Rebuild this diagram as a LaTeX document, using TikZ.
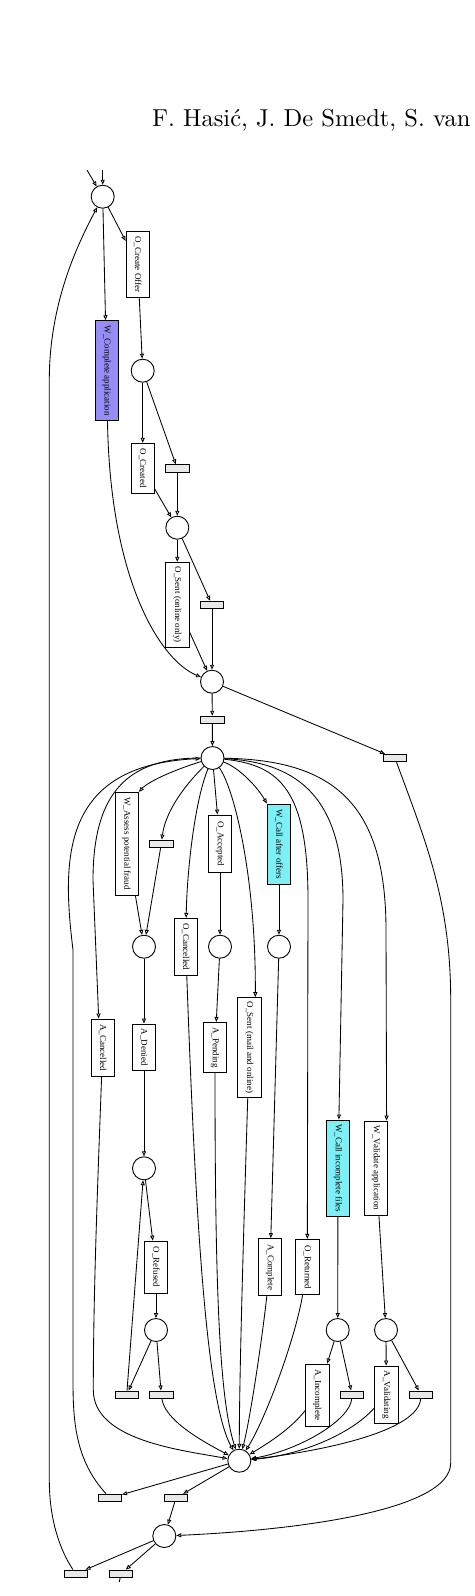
\documentclass[tikz,border=0pt]{standalone}
\usepackage{graphicx}
\usepackage{fontspec}
\newfontfamily\lblfont{Liberation Serif}
\newfontfamily\headfont{lmroman10-regular.otf}
\usetikzlibrary{arrows.meta}
\definecolor{wblue}{RGB}{150,140,245}
\definecolor{wcyan}{RGB}{125,240,245}
\definecolor{tgray}{RGB}{232,232,232}

\begin{document}
\begin{tikzpicture}[x=1pt, y=-1pt,
  pl/.style={draw, circle, minimum size=23pt, inner sep=0pt, line width=0.9pt},
  act/.style={draw, minimum width=23.3pt, minimum height=#1, inner sep=0pt, line width=0.9pt, font=\lblfont\fontsize{9}{10}\selectfont},
  tau/.style={draw, fill=tgray, minimum width=23.3pt, minimum height=7.6pt, inner sep=0pt, line width=0.8pt},
  flow/.style={-{Triangle[open, length=5pt, width=4pt]}, line width=0.85pt}
]
  \useasboundingbox (0,0) rectangle (474,1596);

  % running head
  \node[anchor=base west, inner sep=0pt, font=\headfont\fontsize{24.5}{29}\selectfont] (head) at (152,126.7) {F. Hasić, J. De Smedt, S. van};

  % places
  \foreach \n/\x/\y in {p1/102.7/196.7, p2/142.7/370.7, p3/177.3/527.7, p4/212/681.7,
      p5/212.5/758, p6/144/946.7, p7/220/946.7, p8/279/946.7, p9/144/1168.3,
      p10/156/1330, p11/337.7/1330, p12/386/1330, pend/239.3/1460.7, pfin/164.3/1536} {
    \node[pl] (\n) at (\x,\y) {};
  }

  % silent transitions
  \foreach \n/\x/\y in {t1/177.3/468.5, t2/212/605, t3/212.3/720, t4/395/758, t5/161.3/843.8,
      t6/126.7/1394.7, t7/161.3/1394.7, t8/352/1394.7, t9/421/1394.7,
      t10/110/1498, t11/176/1498, t12/75.7/1573.8, t13/121/1573.8} {
    \node[tau] (\n) at (\x,\y) {};
  }

  % activities
  \foreach \n/\x/\y/\h/\t in {aoco/137.7/264.3/66.7pt/O\_Create Offer,
      aocr/142.7/468.3/50pt/O\_Created,
      aoso/177.3/604.8/85pt/O\_Sent (online only),
      awap/126.7/843.7/102.7pt/W\_Assess potential fraud,
      aoac/220/843.7/57.3pt/O\_Accepted,
      aoca/185.7/946.7/56.7pt/O\_Cancelled,
      aaca/102.7/1047.5/57pt/A\_Cancelled,
      aade/144/1047.3/46.7pt/A\_Denied,
      aape/215/1047.5/50.3pt/A\_Pending,
      aosm/249.3/1047.5/99.7pt/O\_Sent (mail and online),
      awva/376/1168/94pt/W\_Validate application,
      aore/156/1267.2/52.3pt/O\_Refused,
      aaco/270/1267/56.7pt/A\_Complete,
      aoret/307.3/1267/55.3pt/O\_Returned,
      aain/317.3/1395/62pt/A\_Incomplete,
      aava/386.3/1394.7/57.3pt/A\_Validating} {
    \node[act=\h] (\n) at (\x,\y) {\rotatebox{-90}{\t}};
  }
  \node[act=100pt, fill=wblue] (awca) at (106.7,370.7) {\rotatebox{-90}{W\_Complete application}};
  \node[act=80pt, fill=wcyan] (awco) at (279,844) {\rotatebox{-90}{W\_Call after offers}};
  \node[act=96pt, fill=wcyan] (awci) at (338,1168) {\rotatebox{-90}{W\_Call incomplete files}};

  % loose ends
  \coordinate (in1) at (87,170);
  \coordinate (in2) at (102.7,170);
  \coordinate (tail) at (119.3,1582);

  % straight arcs
  \foreach \a/\b in {in1/p1, in2/p1, p1/aoco, p1/awca, aoco/p2, p2/aocr, p2/t1, aocr/p3, t1/p3,
      p3/aoso, p3/t2, aoso/p4, t2/p4, p4/t3, t3/p5, p4/t4, p5/aoac, awap/p6, t5/p6, p6/aade,
      aoac/p7, p7/aape, awco/p8, p8/aaco, aade/p9, p9/aore, t6/p9, aore/p10, p10/t6, p10/t7,
      awci/p11, p11/aain, p11/t8, awva/p12, p12/aava, p12/t9, pend/t10, pend/t11, t11/pfin,
      pfin/t12, pfin/t13} {
    \draw[flow] (\a) -- (\b);
  }
  \draw[line width=0.85pt] (t13) -- (tail);

  % curved arcs, top part
  \draw[flow] (awca) .. controls (110,580) and (160,660) .. (p4);
  \draw[flow] (t4) .. controls (425,840) and (450.7,900) .. (450.7,1000) -- (450.7,1463)
    .. controls (450.7,1510) and (300,1530) .. (pfin);

  % out of p5
  \draw[flow] (p5) .. controls (180,768) and (150,780) .. (awap.north east);
  \draw[flow] (p5) .. controls (180,790) and (165,815) .. (t5);
  \draw[flow] (p5) .. controls (195,800) and (187,870) .. (aoca);
  \draw[flow] (p5) .. controls (235,790) and (256,880) .. ([xshift=6pt]aosm.north);
  \draw[flow] (p5) .. controls (240,768) and (258,788) .. (awco.north west);
  \draw[flow] (p5) .. controls (280,765) and (308,790) .. (308,900) -- (aoret);
  \draw[flow] (p5) .. controls (290,762) and (343,790) .. (343,900) -- (awci);
  \draw[flow] (p5) .. controls (330,760) and (386,800) .. (386,930) -- ([xshift=-1.5pt]awva.north east);
  \draw[flow] (p5) .. controls (130,758) and (93,790) .. (93,880) -- ([xshift=-4pt]aaca.north);
  % back into p5
  \draw[flow] (t10) .. controls (75,1460) and (73,1420) .. (73,1380) -- (73,950)
    .. controls (62,860) and (60,765) .. (p5);

  % into pend
  \draw[flow] (aaca) .. controls (97,1200) and (93.3,1300) .. (93.3,1390)
    .. controls (93.3,1440) and (180,1450) .. (pend);
  \draw[flow] (aoca) .. controls (195,1200) and (205,1400) .. (pend);
  \draw[flow] (aape) .. controls (215,1300) and (220,1400) .. (pend);
  \draw[flow] (aosm) .. controls (243,1250) and (239.3,1380) .. (pend);
  \draw[flow] (aaco) .. controls (262,1340) and (250,1420) .. (pend);
  \draw[flow] (aoret) .. controls (295,1340) and (265,1420) .. (pend);
  \draw[flow] (t7) .. controls (165,1420) and (200,1440) .. (pend);
  \draw[flow] (aain) .. controls (290,1430) and (265,1445) .. (pend);
  \draw[flow] (t8) .. controls (350,1420) and (300,1450) .. (pend);
  \draw[flow] (aava) .. controls (350,1435) and (300,1455) .. (pend);
  \draw[flow] (t9) .. controls (418,1430) and (330,1450) .. (pend);

  % back to the start
  \draw[flow] (t12) .. controls (60,1550) and (49.3,1520) .. (49.3,1480) -- (49.3,380)
    .. controls (49.3,300) and (80,240) .. (p1);
\end{tikzpicture}
\end{document}
